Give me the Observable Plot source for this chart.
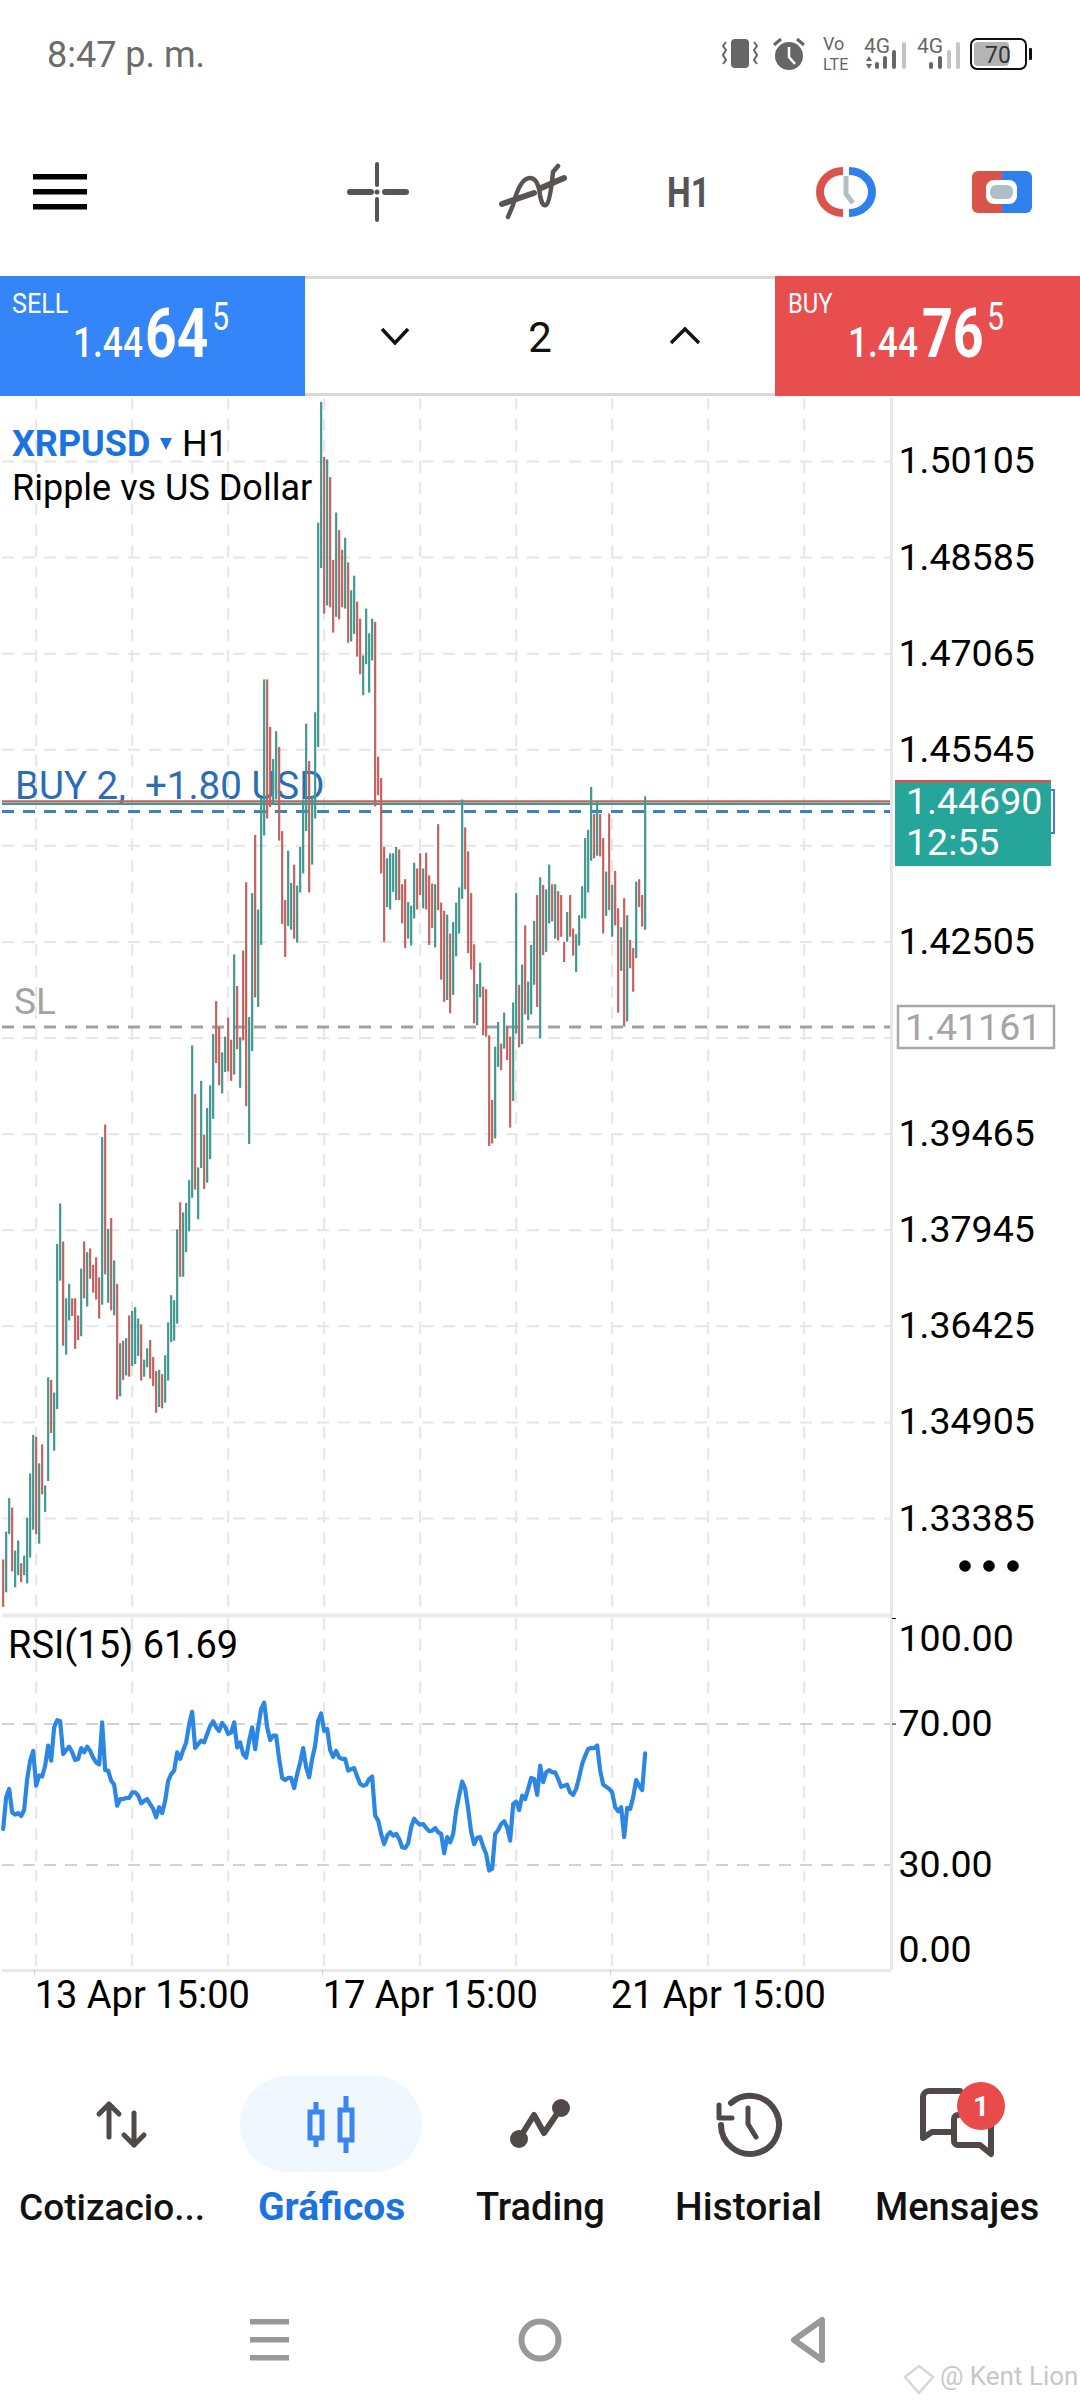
<!DOCTYPE html>
<html>
<head>
<meta charset="utf-8">
<script src="https://cdn.jsdelivr.net/npm/d3@7"></script>
<script src="https://cdn.jsdelivr.net/npm/@observablehq/plot@0.6"></script>
<style>
html,body{margin:0;padding:0;background:#fff;width:1080px;height:2400px;overflow:hidden}
#page{position:relative;width:1080px;height:2400px;font-family:Roboto,sans-serif}
#page>svg,#page>div{position:absolute;left:0}
#page text{font-family:Roboto,sans-serif;white-space:pre}
#under,#over{top:0;pointer-events:none}
#main{top:398px}
#rsi{top:1615px}
</style>
</head>
<body>
<div id="page">
<svg id="under" width="1080" height="2400">
  <text x="15" y="799" font-size="38.5" fill="#2a6db5">BUY 2,  +1.80 USD</text>
  <text x="14" y="1014" font-size="37" fill="#a3a3a3">SL</text>
</svg>
<div id="main"></div>
<div id="rsi"></div>
<svg id="over" width="1080" height="2400">
  <!-- status bar -->
  <text x="47" y="67" font-size="36" fill="#6b6b6b">8:47 p. m.</text>
  <g fill="#666" stroke="none">
    <rect x="731" y="39" width="18" height="29" rx="4"/>
    <path d="M726 42l-3 4 3 4-3 5 3 5-3 4" fill="none" stroke="#666" stroke-width="2"/>
    <path d="M754 42l3 4-3 4 3 5-3 5 3 4" fill="none" stroke="#666" stroke-width="2"/>
    <circle cx="789" cy="56" r="14"/>
    <path d="M774 45l7-6M804 45l-7-6" fill="none" stroke="#666" stroke-width="3"/>
    <path d="M789 47v10l6 7" fill="none" stroke="#fff" stroke-width="2.5"/>
    <text x="823" y="50" font-size="18">Vo</text>
    <text transform="translate(823 70) scale(.95 1)" font-size="17">LTE</text>
    <text x="864" y="53" font-size="21">4G</text>
    <text x="917" y="53" font-size="21">4G</text>
    <path d="M869 56l3 5h-6zM869 69l3-5h-6z"/>
    <rect x="875" y="62" width="4" height="7" rx="2"/>
    <rect x="883" y="56" width="4" height="13" rx="2"/>
    <rect x="892" y="50" width="4" height="19" rx="2"/>
    <rect x="902" y="42" width="4" height="27" rx="2" fill="#c4c4c4"/>
    <rect x="929" y="62" width="4" height="7" rx="2"/>
    <rect x="938" y="56" width="4" height="13" rx="2"/>
    <rect x="947" y="50" width="4" height="19" rx="2" fill="#c4c4c4"/>
    <rect x="956" y="42" width="4" height="27" rx="2" fill="#c4c4c4"/>
    <rect x="971" y="39" width="55" height="30" rx="6" fill="none" stroke="#111" stroke-width="2"/>
    <rect x="974" y="42" width="35" height="24" rx="4" fill="#b4b4b4"/>
    <rect x="1029" y="48" width="3" height="12" rx="1" fill="#111"/>
    <text x="998" y="63" font-size="23" text-anchor="middle" fill="#333">70</text>
  </g>
  <!-- tool bar -->
  <rect x="33" y="174" width="54" height="5.5" fill="#000"/>
  <rect x="33" y="189" width="54" height="5.5" fill="#000"/>
  <rect x="33" y="204" width="54" height="5.5" fill="#000"/>
  <g stroke="#5a5353" fill="none" stroke-linecap="round">
    <path d="M350 192h21M385 192h21" stroke-width="6"/>
    <path d="M377 164v21M377 199v21" stroke-width="4"/>
    <path d="M502 204l32-11M541 188l23-10" stroke-width="6"/>
    <path d="M508 217l5-12q7-27 17-27q8 0 10 17q2 12 6 10q4-2 7-33l5-6" stroke-width="4.5"/>
  </g>
  <circle cx="377" cy="192" r="2.5" fill="#5a5353"/>
  <text transform="translate(667 207) scale(.78 1)" font-size="43" font-weight="700" fill="#555">H1</text>
  <path d="M843 171a23 21 0 0 0 0 42" fill="none" stroke="#d9534a" stroke-width="8"/>
  <path d="M849 171a23 21 0 0 1 0 42" fill="none" stroke="#2f80ed" stroke-width="8"/>
  <path d="M846 176v18l7 9" fill="none" stroke="#b0bec5" stroke-width="5"/>
  <path d="M978 171h24v42h-24a6 6 0 0 1-6-6v-30a6 6 0 0 1 6-6z" fill="#d9534a"/>
  <path d="M1002 171h24a6 6 0 0 1 6 6v30a6 6 0 0 1-6 6h-24z" fill="#2f80ed"/>
  <rect x="986" y="180" width="31" height="24" rx="8" fill="#fff"/>
  <rect x="990" y="185" width="23" height="14" rx="6" fill="#b0bec5"/>
  <!-- trade buttons -->
  <rect x="0" y="276" width="305" height="120" fill="#3385f8"/>
  <rect x="775" y="276" width="305" height="120" fill="#e94e4e"/>
  <rect x="305" y="276" width="470" height="3" fill="#d8d8d8"/>
  <rect x="305" y="393" width="470" height="3" fill="#d8d8d8"/>
  <g fill="#fff">
    <text transform="translate(12 313) scale(.9 1)" font-size="28">SELL</text>
    <text transform="translate(73 357) scale(.84 1)" font-size="42" font-weight="500">1.44</text>
    <text transform="translate(145 357) scale(.8 1)" font-size="69" font-weight="700">64</text>
    <text transform="translate(212 330) scale(.8 1)" font-size="38">5</text>
    <text transform="translate(788 313) scale(.85 1)" font-size="28">BUY</text>
    <text transform="translate(848 357) scale(.84 1)" font-size="42" font-weight="500">1.44</text>
    <text transform="translate(922 357) scale(.78 1)" font-size="69" font-weight="700">76</text>
    <text transform="translate(987 330) scale(.8 1)" font-size="38">5</text>
  </g>
  <path d="M382 329l13 14 13-14M671 343l14-14 14 14" fill="none" stroke="#111" stroke-width="3.5"/>
  <text x="540" y="352" font-size="42" text-anchor="middle" fill="#111">2</text>
  <!-- chart captions -->
  <text x="12" y="456" font-size="36" font-weight="700" fill="#1a73e0">XRPUSD</text>
  <path d="M160 438h12l-6 12z" fill="#1a73e0"/>
  <text x="182" y="456" font-size="36" fill="#000">H1</text>
  <text x="12" y="500" font-size="36" fill="#000">Ripple vs US Dollar</text>
  <!-- live price boxes -->
  <rect x="895" y="780" width="156" height="86" fill="#26a69a"/>
  <rect x="895" y="780" width="156" height="2.5" fill="#d9534a"/>
  <path d="M1051 790h3v43h-3" fill="none" stroke="#3d7fd6" stroke-width="2"/>
  <text x="906" y="814" font-size="37.5" fill="#fff">1.44690</text>
  <text x="906" y="855" font-size="37.5" fill="#fff">12:55</text>
  <rect x="898" y="1006" width="156" height="42" fill="#fff" stroke="#a8a8a8" stroke-width="2.5"/>
  <text x="905" y="1040" font-size="37.5" fill="#a5a5a5">1.41161</text>
  <circle cx="965" cy="1566" r="5.8" fill="#000"/>
  <circle cx="989" cy="1566" r="5.8" fill="#000"/>
  <circle cx="1013" cy="1566" r="5.8" fill="#000"/>
  <text x="8" y="1658" font-size="38" fill="#000">RSI(15) 61.69</text>
  <!-- bottom tabs -->
  <rect x="240" y="2076" width="182" height="96" rx="48" fill="#f1f7fe"/>
  <g stroke="#4f4a48" fill="none" stroke-width="5" stroke-linecap="round" stroke-linejoin="round">
    <path d="M109 2137v-32M99 2114l10-10 10 10"/>
    <path d="M134 2113v32M124 2135l10 10 10-10"/>
    <path d="M519 2139l15-24 10 18 17-25" stroke-width="6"/>
    <path d="M731 2103a29 29 0 1 1-10 22" stroke-width="6"/>
    <path d="M719 2105v13h13" stroke-width="5"/>
    <path d="M748 2108v16l8 13" stroke-width="5"/>
    <path d="M960 2091h-31a6 6 0 0 0-6 6v41l9-6h21" stroke-width="6"/>
    <path d="M958 2115a4 4 0 0 0-4 4v22a4 4 0 0 0 4 4h22l11 9v-32" stroke-width="6"/>
  </g>
  <circle cx="519" cy="2139" r="9" fill="#4f4a48"/>
  <circle cx="561" cy="2108" r="9" fill="#4f4a48"/>
  <circle cx="981" cy="2106" r="24" fill="#e94b4b"/>
  <text x="981" y="2116" font-size="28" font-weight="700" text-anchor="middle" fill="#fff">1</text>
  <g stroke="#3a86ee" fill="none">
    <path d="M316 2102v10M316 2138v9M346 2096v14M346 2140v13" stroke-width="5"/>
    <rect x="310" y="2112" width="12" height="26" stroke-width="5"/>
    <rect x="340" y="2110" width="12" height="30" stroke-width="5"/>
  </g>
  <g font-size="38" font-weight="500" fill="#111">
    <text x="19" y="2220" font-size="37">Cotizacio...</text>
    <text x="258" y="2220" font-size="39" font-weight="700" fill="#1a73e0">Gráficos</text>
    <text x="476" y="2220">Trading</text>
    <text x="675" y="2220" font-size="39">Historial</text>
    <text x="875" y="2220">Mensajes</text>
  </g>
  <!-- navigation bar -->
  <rect x="250" y="2319" width="39" height="5.5" fill="#999"/>
  <rect x="250" y="2337" width="39" height="5.5" fill="#999"/>
  <rect x="250" y="2355" width="39" height="5.5" fill="#999"/>
  <circle cx="540" cy="2340" r="18.5" fill="none" stroke="#999" stroke-width="6"/>
  <path d="M822 2320v40l-28-20z" fill="none" stroke="#999" stroke-width="6" stroke-linejoin="round"/>
  <path d="M919 2366l14 11-14 16-14-16z" fill="none" stroke="#d8d8d8" stroke-width="2.5"/>
  <text x="940" y="2385" font-size="26" fill="#c8c8c8">@ Kent Lion</text>
</svg>
</div>
<script>
// Hourly XRPUSD range of each bar, left to right.
const highs = [1.3273,1.3317,1.3370,1.3355,1.3287,1.3303,1.3267,1.3279,1.3339,1.3409,1.3470,1.3467,1.3425,1.3455,1.3390,1.3561,1.3557,1.3537,1.3772,1.3836,1.3776,1.3686,1.3709,1.3686,1.3686,1.3659,1.3733,1.3776,1.3759,1.3765,1.3739,1.3751,1.3719,1.3941,1.3961,1.3796,1.3813,1.3746,1.3709,1.3615,1.3619,1.3623,1.3659,1.3666,1.3672,1.3654,1.3645,1.3589,1.3607,1.3620,1.3593,1.3571,1.3573,1.3566,1.3596,1.3648,1.3691,1.3683,1.3795,1.3838,1.3822,1.3837,1.3873,1.4086,1.4009,1.3893,1.4030,1.3945,1.3987,1.4023,1.4104,1.4156,1.4115,1.4075,1.4100,1.4130,1.4095,1.4230,1.4180,1.4099,1.4236,1.4344,1.4131,1.4327,1.4419,1.4301,1.4478,1.4665,1.4665,1.4590,1.4539,1.4583,1.4558,1.4425,1.4316,1.4394,1.4343,1.4372,1.4339,1.4400,1.4475,1.4595,1.4536,1.4481,1.4613,1.4913,1.5104,1.5017,1.5013,1.4985,1.4854,1.4929,1.4901,1.4870,1.4889,1.4850,1.4806,1.4829,1.4788,1.4761,1.4703,1.4777,1.4738,1.4761,1.4756,1.4543,1.4509,1.4400,1.4382,1.4390,1.4390,1.4400,1.4396,1.4341,1.4349,1.4313,1.4307,1.4375,1.4366,1.4390,1.4366,1.4391,1.4355,1.4342,1.4341,1.4436,1.4312,1.4299,1.4293,1.4263,1.4281,1.4312,1.4336,1.4475,1.4431,1.4393,1.4327,1.4246,1.4183,1.4217,1.4179,1.4175,1.4102,1.4000,1.4084,1.4123,1.4089,1.4138,1.4117,1.4100,1.4154,1.4327,1.4182,1.4214,1.4276,1.4187,1.4245,1.4283,1.4324,1.4352,1.4340,1.4333,1.4372,1.4341,1.4341,1.4330,1.4324,1.4250,1.4297,1.4324,1.4271,1.4262,1.4292,1.4338,1.4414,1.4427,1.4495,1.4452,1.4472,1.4452,1.4414,1.4361,1.4453,1.4340,1.4362,1.4303,1.4273,1.4319,1.4292,1.4253,1.4240,1.4345,1.4349,1.4324,1.4480];
const lows = [1.3198,1.3221,1.3313,1.3254,1.3229,1.3248,1.3237,1.3248,1.3235,1.3276,1.3320,1.3313,1.3298,1.3376,1.3348,1.3397,1.3473,1.3445,1.3511,1.3714,1.3611,1.3597,1.3651,1.3658,1.3606,1.3620,1.3626,1.3686,1.3673,1.3717,1.3695,1.3684,1.3654,1.3676,1.3724,1.3679,1.3667,1.3659,1.3526,1.3531,1.3557,1.3564,1.3562,1.3579,1.3582,1.3595,1.3556,1.3562,1.3577,1.3559,1.3547,1.3505,1.3514,1.3512,1.3521,1.3556,1.3617,1.3619,1.3646,1.3720,1.3720,1.3759,1.3792,1.3845,1.3858,1.3811,1.3892,1.3859,1.3869,1.3906,1.3970,1.4058,1.4023,1.4010,1.4044,1.4045,1.4030,1.4040,1.4080,1.4019,1.4094,1.3990,1.3930,1.4077,1.4162,1.4147,1.4245,1.4418,1.4445,1.4463,1.4469,1.4475,1.4410,1.4278,1.4226,1.4275,1.4269,1.4255,1.4249,1.4328,1.4358,1.4425,1.4328,1.4372,1.4445,1.4558,1.4841,1.4769,1.4782,1.4779,1.4739,1.4764,1.4760,1.4779,1.4777,1.4723,1.4725,1.4737,1.4701,1.4673,1.4640,1.4689,1.4644,1.4695,1.4464,1.4482,1.4358,1.4250,1.4305,1.4301,1.4329,1.4316,1.4316,1.4279,1.4240,1.4255,1.4244,1.4287,1.4301,1.4324,1.4303,1.4301,1.4245,1.4272,1.4241,1.4300,1.4190,1.4155,1.4158,1.4137,1.4166,1.4227,1.4263,1.4318,1.4333,1.4232,1.4206,1.4121,1.4118,1.4162,1.4102,1.4100,1.3927,1.3931,1.3939,1.4052,1.4047,1.4081,1.4063,1.3956,1.3998,1.4105,1.4083,1.4088,1.4135,1.4126,1.4135,1.4182,1.4147,1.4097,1.4229,1.4234,1.4279,1.4282,1.4255,1.4252,1.4258,1.4218,1.4250,1.4258,1.4228,1.4202,1.4244,1.4287,1.4287,1.4328,1.4378,1.4382,1.4386,1.4385,1.4263,1.4291,1.4300,1.4258,1.4276,1.4138,1.4204,1.4116,1.4124,1.4208,1.4171,1.4224,1.4305,1.4274,1.4269];
const dirs = "d u u d u u d u u u u d u d u u d u u u d u u d d d u d u d d d d u d u d u d u d u d u u u d u u d d d u d u u u u u d u u u u d u u d u u u d d u u d d u d u d d u u d u u u d d u u d d d u u d u u u u d u u u u d u d d u d d u d u u d d u u u u d d d d u u u u d d d u u u d d u d d d u d d d u d u u u u d d d d u u d d d d u u d u d d u u d u d u u u d u d u u d u d d d u d d u u u u u u d u d d u d u d d u d u d d u d d u".split(" ");
// RSI(15) reading at each bar.
const rsi = [40.2,49.2,51.6,44.9,44.3,44.7,43.9,45.6,54.4,59.6,62.4,52.5,55.4,55.1,58.2,63.9,59.6,69.1,71.1,70.9,61.5,62.6,63.6,62.0,59.8,60.1,63.2,62.0,63.6,62.4,60.5,59.1,58.5,70.5,56.9,56.8,53.9,52.8,46.8,48.7,48.7,49.0,49.0,50.6,50.6,49.7,47.5,48.2,48.7,47.3,45.9,43.5,46.4,44.7,48.2,53.9,55.8,56.8,62.0,60.1,62.6,64.8,70.0,73.5,63.2,64.3,65.3,64.8,67.2,69.5,70.8,69.1,68.1,70.3,69.2,67.2,67.6,70.5,63.4,64.8,61.5,60.5,65.3,69.1,62.9,69.1,74.3,76.1,69.1,65.5,66.7,66.7,60.1,54.7,54.1,54.7,54.7,51.8,55.8,59.1,63.2,57.7,54.9,60.1,63.9,70.9,73.0,68.1,68.6,62.6,60.7,62.4,60.5,60.1,60.1,56.8,57.2,57.5,55.1,53.0,52.5,52.8,54.4,55.1,44.0,42.6,38.8,35.9,38.3,39.3,38.3,38.8,37.4,35.0,34.8,36.1,40.7,43.1,42.1,41.4,41.6,40.5,39.6,39.7,40.5,39.3,38.8,33.3,37.9,36.4,38.8,45.4,49.7,53.7,51.6,45.9,39.3,35.9,37.7,37.9,35.2,33.1,28.4,28.9,38.8,39.9,41.6,42.4,40.7,36.9,47.3,48.0,45.6,49.7,48.7,51.6,54.7,54.4,49.9,58.2,53.5,56.3,56.9,56.3,56.3,54.4,52.2,52.5,52.8,50.6,49.9,51.6,54.9,58.7,61.0,62.9,63.2,63.2,63.9,56.8,52.8,52.2,51.6,50.6,46.4,45.2,46.4,37.9,46.2,45.9,49.2,54.1,52.5,51.3,61.69];

const priceLabels = [1.50105,1.48585,1.47065,1.45545,1.42505,1.39465,1.37945,1.36425,1.34905,1.33385];
const priceGrid = [1.50105,1.48585,1.47065,1.45545,1.44025,1.42505,1.40985,1.39465,1.37945,1.36425,1.34905,1.33385];
const askLine = 1.4473, bidLine = 1.4469, buyLine = 1.4457, stopLine = 1.41161;
const rsiLevels = [70,30];
const timeGrid = [11,43,75,107,139,171,203,235,267];
const timeTicks = [11,107,203];
const timeLabels = ["13 Apr 15:00","17 Apr 15:00","21 Apr 15:00"];

const bars = highs.map((h,i)=>({i,high:h,low:lows[i],dir:dirs[i]}));
const rsiRows = rsi.map((v,i)=>({i,v}));

const teal="#40988f", red="#c4625f", gridC="#e6e6e6", axisC="#e8e8e8";
const xDom=[-0.22,296.11];
const base={width:1080,marginLeft:2,marginRight:189,style:{background:"transparent",fontFamily:"Roboto",overflow:"visible"}};
const dash="12,9";
const tickFont=37.5;

const main=Plot.plot({...base,height:1220,marginTop:0,marginBottom:3,
  x:{domain:xDom,axis:null},
  y:{domain:[1.31851,1.51101],axis:null},
  color:{domain:["u","d"],range:[teal,red]},
  marks:[
    Plot.gridX(timeGrid,{stroke:gridC,strokeOpacity:1,strokeWidth:2,strokeDasharray:dash}),
    Plot.gridY(priceGrid,{stroke:gridC,strokeOpacity:1,strokeWidth:2,strokeDasharray:dash}),
    Plot.ruleY([stopLine],{stroke:"#a0a0a0",strokeWidth:3,strokeDasharray:dash}),
    Plot.ruleY([buyLine],{stroke:"#3f7fc6",strokeWidth:3,strokeDasharray:dash}),
    Plot.ruleY([bidLine],{stroke:teal,strokeWidth:2.2}),
    Plot.ruleY([askLine],{stroke:red,strokeWidth:2.2}),
    Plot.ruleX(bars,{x:"i",y1:"low",y2:"high",stroke:"dir",strokeWidth:2.2}),
    Plot.ruleY([1.31851],{stroke:"#ebebeb",strokeWidth:4}),
    Plot.ruleX([xDom[1]],{y1:1.51101,y2:1.31803,stroke:axisC,strokeWidth:3}),
    Plot.axisY({anchor:"right",ticks:priceLabels,tickSize:0,tickPadding:7,tickFormat:d3.format(".5f"),fontSize:tickFont,label:null,fill:"#000"})
  ]});
document.getElementById("main").append(main);

const panel=Plot.plot({...base,height:405,marginTop:3,marginBottom:50,
  x:{domain:xDom,axis:null},
  y:{domain:[0,100],axis:null},
  marks:[
    Plot.gridX(timeGrid,{stroke:gridC,strokeOpacity:1,strokeWidth:2,strokeDasharray:dash}),
    Plot.gridY(rsiLevels,{stroke:"#c4c4c4",strokeOpacity:1,strokeWidth:1.5,strokeDasharray:dash}),
    Plot.ruleX([xDom[1]],{stroke:axisC,strokeWidth:3}),
    Plot.ruleY([0],{stroke:axisC,strokeWidth:3}),
    Plot.line(rsiRows,{x:"i",y:"v",stroke:"#2b87e3",strokeWidth:4.2,strokeLinejoin:"round"}),
    Plot.axisY({anchor:"right",ticks:[100,70],tickSize:4,stroke:"#111",text:null,label:null}),
    Plot.axisY({anchor:"right",ticks:rsiLevels,tickSize:0,tickPadding:7,tickFormat:d3.format(".2f"),fontSize:tickFont,label:null,fill:"#000"}),
    Plot.axisY({anchor:"right",ticks:[100],tickSize:0,tickPadding:7,dy:20,tickFormat:d3.format(".2f"),fontSize:tickFont,label:null,fill:"#000"}),
    Plot.axisY({anchor:"right",ticks:[0],tickSize:0,tickPadding:7,dy:-21,tickFormat:d3.format(".2f"),fontSize:tickFont,label:null,fill:"#000"}),
    Plot.axisX({anchor:"bottom",ticks:timeTicks,tickSize:5,tickPadding:6,stroke:"#cfcfcf",textAnchor:"start",dx:-1.5,fontSize:38,fill:"#000",label:null,
      tickFormat:d=>timeLabels[timeTicks.indexOf(d)]})
  ]});
document.getElementById("rsi").append(panel);
</script>
</body>
</html>
